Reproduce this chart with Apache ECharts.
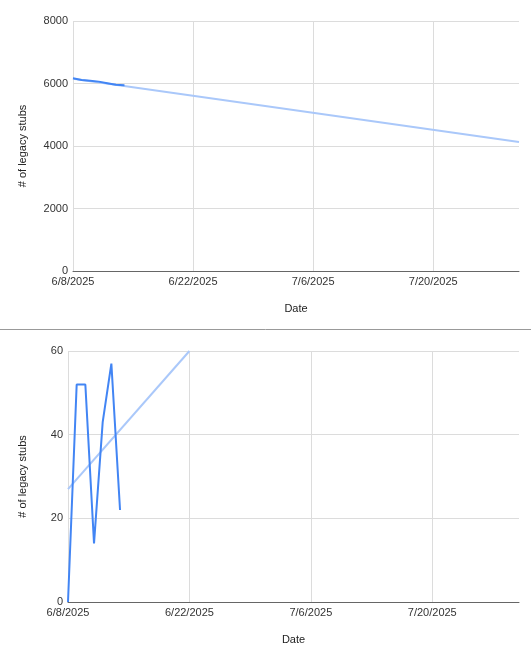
<!DOCTYPE html>
<html>
<head>
<meta charset="utf-8">
<script src="https://cdn.jsdelivr.net/npm/echarts@6/dist/echarts.min.js"></script>
<style>
html,body{margin:0;padding:0;background:#fff;}
#c{width:531px;height:660px;}
</style>
</head>
<body>
<div id="c"></div>
<script>
// Axis range (dates shown on the x axis)
const axisStartDate = [2025, 6, 8];
const axisEndDate = [2025, 7, 30];
const xTickLabels = ['6/8/2025', '6/22/2025', '7/6/2025', '7/20/2025'];

// Observed dates
const obsDates = ['6/8/2025', '6/9/2025', '6/10/2025', '6/11/2025', '6/12/2025', '6/13/2025', '6/14/2025'];

// Top chart: total legacy stubs
const totalStubs = [6170, 6110, 6085, 6060, 6010, 5960, 5945];
const totalTrendDates = ['6/8/2025', '7/30/2025'];
const totalTrendValues = [6155, 4130];

// Bottom chart: legacy stubs (daily)
const dailyStubs = [0, 52, 52, 14, 43, 57, 22];
const dailyTrendDates = ['6/8/2025', '6/22/2025'];
const dailyTrendValues = [27, 60];

// Y ticks
const topYMax = 8000, topYStep = 2000;
const botYMax = 60, botYStep = 20;

function buildCategories() {
  const out = [];
  const d = new Date(axisStartDate[0], axisStartDate[1] - 1, axisStartDate[2]);
  const end = new Date(axisEndDate[0], axisEndDate[1] - 1, axisEndDate[2]);
  while (d <= end) {
    out.push((d.getMonth() + 1) + '/' + d.getDate() + '/' + d.getFullYear());
    d.setDate(d.getDate() + 1);
  }
  return out;
}
const categories = buildCategories();
const tickIdx = xTickLabels.map(l => categories.indexOf(l));
const tickStep = tickIdx[1] - tickIdx[0];

const FONT = 'Liberation Sans, Arial, sans-serif';
const textColor = '#333';
const gridColor = '#dcdcdc';
const mainBlue = '#4285f4';
const trendBlue = '#aac8fa';

function xAxisCfg(gridIndex) {
  return {
    type: 'category', gridIndex, data: categories, boundaryGap: false,
    name: 'Date', nameLocation: 'middle', nameGap: 32,
    nameTextStyle: { color: '#222', fontSize: 11, fontFamily: FONT },
    axisLine: { show: true, lineStyle: { color: '#666', width: 1 } },
    axisTick: { show: false },
    axisLabel: { interval: tickStep - 1, color: textColor, fontSize: 11, fontFamily: FONT, margin: 5 },
    splitLine: { show: true, interval: tickStep - 1, lineStyle: { color: gridColor, width: 1 } }
  };
}
function yAxisCfg(gridIndex, max, step, gap) {
  return {
    type: 'value', gridIndex, min: 0, max, interval: step,
    name: '# of legacy stubs', nameLocation: 'middle', nameGap: gap, nameRotate: 90,
    nameTextStyle: { color: '#222', fontSize: 11, fontFamily: FONT },
    axisLine: { show: false }, axisTick: { show: false },
    axisLabel: { color: textColor, fontSize: 11, fontFamily: FONT, margin: 5,
      formatter: v => String(v) },
    splitLine: { show: true, lineStyle: { color: gridColor, width: 1 } }
  };
}

const chart = echarts.init(document.getElementById('c'), null, { renderer: 'canvas' });
chart.setOption({
  animation: false,
  backgroundColor: '#fff',
  grid: [
    { left: 73, right: 12, top: 21, height: 250 },
    { left: 68, right: 12, top: 351, height: 251 }
  ],
  xAxis: [xAxisCfg(0), xAxisCfg(1)],
  yAxis: [yAxisCfg(0, topYMax, topYStep, 45), yAxisCfg(1, botYMax, botYStep, 40)],
  graphic: [{
    type: 'line', shape: { x1: 0, y1: 329.5, x2: 531, y2: 329.5 },
    style: { stroke: '#999', lineWidth: 1 }
  }],
  series: [
    { type: 'line', xAxisIndex: 0, yAxisIndex: 0, showSymbol: false,
      lineStyle: { color: trendBlue, width: 2 },
      data: totalTrendDates.map((d, i) => [d, totalTrendValues[i]]) },
    { type: 'line', xAxisIndex: 0, yAxisIndex: 0, showSymbol: false,
      lineStyle: { color: mainBlue, width: 2 },
      data: obsDates.map((d, i) => [d, totalStubs[i]]) },
    { type: 'line', xAxisIndex: 1, yAxisIndex: 1, showSymbol: false,
      lineStyle: { color: trendBlue, width: 2 },
      data: dailyTrendDates.map((d, i) => [d, dailyTrendValues[i]]) },
    { type: 'line', xAxisIndex: 1, yAxisIndex: 1, showSymbol: false,
      lineStyle: { color: mainBlue, width: 2 },
      data: obsDates.map((d, i) => [d, dailyStubs[i]]) }
  ]
});
</script>
</body>
</html>
